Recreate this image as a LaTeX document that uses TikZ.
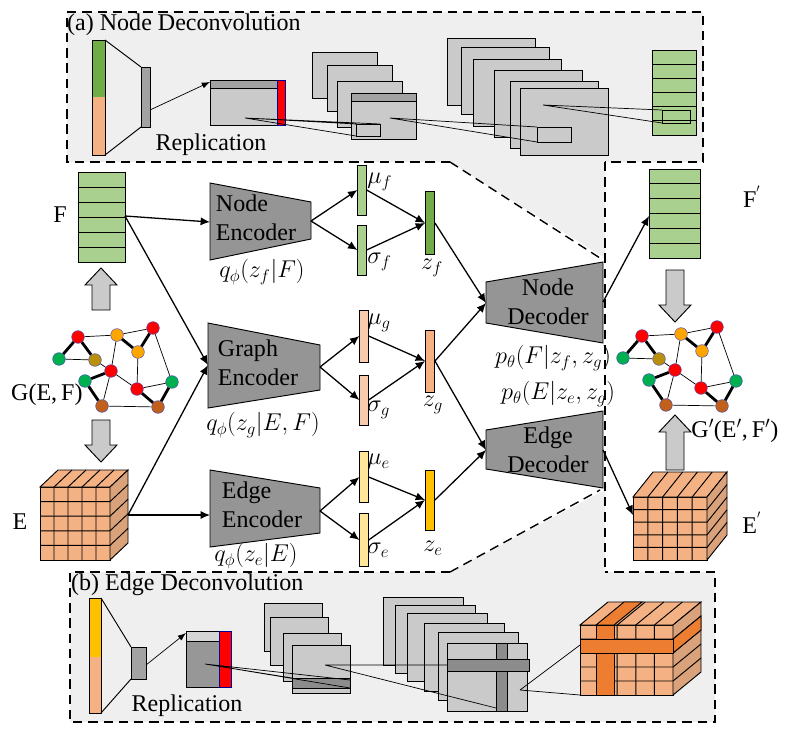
\documentclass[tikz,border=0pt]{standalone}
\usepackage{fontspec}
\setmainfont{Liberation Serif}
\usetikzlibrary{arrows.meta}
\definecolor{cpanel}{HTML}{EFEFEF}
\definecolor{cgl}{HTML}{A9D08E}
\definecolor{cgd}{HTML}{70AD47}
\definecolor{csal}{HTML}{F8CBAD}
\definecolor{csd}{HTML}{F4B183}
\definecolor{cyl}{HTML}{FFE699}
\definecolor{cyd}{HTML}{FFC000}
\definecolor{cside}{HTML}{D9A27A}
\definecolor{chi}{HTML}{ED7D31}
\definecolor{cenc}{HTML}{959595}
\definecolor{cbox}{HTML}{CACACA}
\definecolor{cdark}{HTML}{8C8C8C}
\definecolor{nR}{HTML}{FF0000}
\definecolor{nO}{HTML}{FFA500}
\definecolor{nG}{HTML}{00B050}
\definecolor{nY}{HTML}{B8900B}
\definecolor{nB}{HTML}{C0601A}
\tikzset{
  every node/.style={font=\fontsize{20.5}{25}\selectfont},
  bar/.style={draw, thick, inner sep=0pt, minimum width=0.25cm},
  enc/.style={draw, thick, fill=cenc},
  arr/.style={line width=1.1pt, -{Latex[length=8pt,width=7pt]}},
  frame/.style={very thick, dash pattern=on 8pt off 5pt},
  box/.style={draw, thick, fill=cbox},
  blk/.style={draw, thick, fill=cbox},
  gn/.style={circle, draw=blue!40!gray, fill=#1, inner sep=0pt, minimum size=0.38cm},
  thn/.style={semithick},
  thk/.style={line width=2.4pt},
  lbl/.style={inner sep=1pt}
}
% block arrow: cx, ytip, ybase, sign (+1 up, -1 down)
\newcommand\blkarr[4]{\draw[blk] (#1-9,#3) -- (#1-9,#2+#4*17) -- (#1-16,#2+#4*17) -- (#1,#2) -- (#1+16,#2+#4*17) -- (#1+9,#2+#4*17) -- (#1+9,#3) -- cycle;}
% feature vector with rows: x0,y0,x1,y1,rows
\newcommand\fvec[5]{\draw[thick, fill=cgl] (#1,#2) rectangle (#3,#4);
  \foreach \i in {1,...,5}{\draw[thick] (#1,{#2+\i*(#4-#2)/#5}) -- (#3,{#2+\i*(#4-#2)/#5});}}
% cube: x0,y0,w,h,dx,dy (5 x 5 cells)
\newcommand\cube[6]{%
  \draw[thick, fill=csd] (#1,#2) rectangle (#1+#3,#2+#4);
  \draw[thick, fill=csd] (#1,#2) -- (#1+#5,#2-#6) -- (#1+#3+#5,#2-#6) -- (#1+#3,#2) -- cycle;
  \draw[thick, fill=cside] (#1+#3,#2) -- (#1+#3+#5,#2-#6) -- (#1+#3+#5,#2+#4-#6) -- (#1+#3,#2+#4) -- cycle;
  \foreach \i in {1,...,4}{
    \draw[thick] ({#1+\i*#3/5},#2+#4) -- ({#1+\i*#3/5},#2) -- ++(#5,-#6);
    \draw[thick] (#1,{#2+\i*#4/5}) -- ++(#3,0) -- ++(#5,-#6);}}
% graph: prefix, shift
\newcommand\gnet[2]{\begin{scope}[shift={#2}]
  \node[gn=nR] (#1a) at (78,337) {};
  \node[gn=nO] (#1b) at (117,335) {};
  \node[gn=nR] (#1c) at (153,328) {};
  \node[gn=nG] (#1d) at (59,359) {};
  \node[gn=nY] (#1e) at (95,360) {};
  \node[gn=nO] (#1f) at (138,352) {};
  \node[gn=nR] (#1g) at (111,371) {};
  \node[gn=nG] (#1h) at (85,381) {};
  \node[gn=nR] (#1i) at (137,389) {};
  \node[gn=nG] (#1j) at (172,382) {};
  \node[gn=nB] (#1k) at (102,406) {};
  \node[gn=nB] (#1l) at (158,407) {};
  \draw[thn] (#1a) -- (#1b) -- (#1c) (#1d) -- (#1e) (#1b) -- (#1g) (#1e) -- (#1g) -- (#1i)
    (#1f) -- (#1i) (#1c) -- (#1j) -- (#1i) (#1g) -- (#1k) -- (#1l);
  \draw[thk] (#1b) -- (#1f) -- (#1c) (#1a) -- (#1d) (#1a) -- (#1e) (#1h) -- (#1g)
    (#1h) -- (#1k) (#1i) -- (#1l) -- (#1j);
\end{scope}}
\begin{document}
\begin{tikzpicture}[x=0.03cm, y=-0.03cm]
\useasboundingbox (0,0) rectangle (793,731);

% ---- panels and funnels
\fill[cpanel] (67,12) -- (703,12) -- (703,162) -- (605,162) -- (605,258) -- (450,162) -- (67,162) -- cycle;
\fill[cpanel] (70,722) -- (715,722) -- (715,572) -- (605,572) -- (605,490) -- (450,572) -- (70,572) -- cycle;
\draw[frame] (450,162) -- (67,162) -- (67,12) -- (703,12) -- (703,162) -- (605,162);
\draw[frame] (450,162) -- (600,258);
\draw[frame] (605,162) -- (605,572);
\draw[frame] (450,572) -- (70,572) -- (70,722) -- (715,722) -- (715,572) -- (605,572);
\draw[frame] (450,572) -- (600,490);
\node[anchor=north west, inner sep=0pt] (ta) at (67,14) {(a) Node Deconvolution};
\node[anchor=north west, inner sep=0pt] (tb) at (71,574) {(b) Edge Deconvolution};

% ---- (a) node deconvolution
\fill[cgd] (92,40) rectangle (105,97);
\fill[csd] (92,97) rectangle (105,155);
\draw[thick] (92,40) rectangle (105,155);
\draw[thick] (105,40) -- (141,67) (105,155) -- (141,127);
\draw[thick, fill=cbox!80!black] (141,67) rectangle (150,127);
\coordinate (ra) at (150,110);
\coordinate (rb) at (210,82);
\draw[semithick, -{Latex[length=7pt]}] (ra) -- (rb);
\draw[box] (210,80) rectangle (277,125);
\draw[thick, fill=cdark!80] (210,80) rectangle (277,88);
\draw[thick, draw=blue!60!black, fill=red] (277,80) rectangle (285,125);
\node (repa) at (211,145) {Replication};
\foreach \x/\y in {312/52,327/65,337/81,351/93}{\draw[box] (\x,\y) rectangle (\x+65,\y+46);}
\draw[thick, fill=cdark!80] (351,93) rectangle (416,101);
\draw[thick] (356,124) rectangle (380,136);
\draw[semithick] (356,124) -- (245,118) -- (356,136) (245,118) -- (380,124);
\foreach \x/\y in {447/38,461/47,473/59,494/70,510/81,520/88}{\draw[box] (\x,\y) rectangle (\x+88,\y+67);}
\draw[thick] (537,127) rectangle (571,142);
\draw[semithick] (537,127) -- (390,118) -- (537,142);
\fvec{652}{50}{696}{135}{6}
\draw[thick] (662,110) rectangle (690,123);
\draw[semithick] (662,110) -- (543,105) -- (662,123);

% ---- (b) edge deconvolution
\fill[cyd] (89,598) rectangle (101,657);
\fill[csd] (89,657) rectangle (101,713);
\draw[thick] (89,598) rectangle (101,713);
\draw[thick] (101,598) -- (131,647) (101,713) -- (131,679);
\draw[thick, fill=cbox!80!black] (131,647) rectangle (146,679);
\coordinate (rc) at (146,665);
\coordinate (rd) at (186,633);
\draw[semithick, -{Latex[length=7pt]}] (rc) -- (rd);
\draw[thick, fill=cdark!90] (186,631) rectangle (219,687);
\draw[thick, fill=cbox!80] (186,631) rectangle (219,641);
\draw[thick, draw=blue!60!black, fill=red] (219,631) rectangle (231,687);
\node (repb) at (187,706) {Replication};
\foreach \x/\y in {264/603,270/617,283/633,292/645}{\draw[box] (\x,\y) rectangle (\x+58,\y+48);}
\draw[thick, fill=cdark] (292,678) rectangle (350,688);
\draw[semithick] (205,664) -- (292,678) (205,664) -- (350,680) (205,664) -- (350,688);
\foreach \x/\y in {383/597,395/605,407/613,424/623,438/632,447/643}{\draw[box] (\x,\y) rectangle (\x+80,\y+68);}
\draw[thick, fill=cdark] (496,643) rectangle (507,711);
\draw[thick, fill=cdark] (447,659) rectangle (529,671);
\draw[semithick] (325,665) -- (447,665) (325,665) -- (496,708);
\cube{580}{625}{93}{70}{28}{23}
\draw[thick, fill=chi] (596,625) -- (624,602) -- (642,602) -- (614,625) -- cycle;
\draw[thick, fill=chi] (673,639) -- (701,616) -- (701,630) -- (673,653) -- cycle;
\draw[thick, fill=chi] (596,625) rectangle (614,695);
\draw[thick, fill=chi] (580,639) rectangle (673,653);
\draw[semithick] (520,690) -- (580,645) (520,690) -- (580,695);

% ---- inputs
\fvec{78}{172}{125}{262}{6}
\node (lF) at (60,215) {F};
\blkarr{101}{268}{310}{1}
\gnet{g}{(0,0)}
\node[anchor=east, lbl] (lG) at (84,395) {G(E,\,F)};
\blkarr{101}{462}{420}{-1}
\cube{40}{487}{70}{73}{18}{17}
\node (lE) at (20,522) {E};

% ---- outputs
\fvec{649}{169}{700}{258}{6}
\node (lF2) at (752,197) {F$^{'}$};
\blkarr{675}{322}{270}{-1}
\gnet{h}{(564,-1)}
\node[anchor=west, lbl] (lG2) at (690,431) {G$'$(E$'$,\,F$'$)};
\blkarr{675}{415}{470}{1}
\cube{633}{497}{74}{63}{20}{25}
\node (lE2) at (752,523) {E$^{'}$};

% ---- encoders
\draw[enc] (210,183) -- (311,202) -- (311,239) -- (210,260) -- cycle;
\draw[enc] (208,323) -- (320,345) -- (320,390) -- (208,408) -- cycle;
\draw[enc] (210,470) -- (320,488) -- (320,533) -- (210,547) -- cycle;
\node[align=left] (ne) at (256,218) {Node\\Encoder};
\node[align=left] (ge) at (258,363) {Graph\\Encoder};
\node[align=left] (ee) at (262,505) {Edge\\Encoder};
\coordinate (nei) at (210,222);
\coordinate (neo) at (311,221);
\coordinate (gei) at (208,365);
\coordinate (geo) at (320,367);
\coordinate (eei) at (210,515);
\coordinate (eeo) at (320,511);
\node (qf) at (262,272) {$q_\phi(z_f|F)$};
\node (qg) at (263,425) {$q_\phi(z_g|E,F)$};
\node (qe) at (256,556) {$q_\phi(z_e|E)$};

% ---- latent bars
\node[bar, fill=cgl, minimum height=1.5cm] (mf) at (362,190) {};
\node[bar, fill=cgl, minimum height=1.5cm] (sf) at (362,250) {};
\node[bar, fill=cgd, minimum height=1.9cm, minimum width=0.27cm] (zf) at (430,223) {};
\node[bar, fill=csal, minimum height=1.56cm] (mg) at (364,336) {};
\node[bar, fill=csal, minimum height=1.5cm] (sg) at (364,400) {};
\node[bar, fill=csd, minimum height=1.86cm, minimum width=0.27cm] (zg) at (430,361) {};
\node[bar, fill=cyl, minimum height=1.53cm] (me) at (364,477) {};
\node[bar, fill=cyl, minimum height=1.59cm] (se) at (364,540) {};
\node[bar, fill=cyd, minimum height=1.8cm, minimum width=0.27cm] (ze) at (430,500) {};
\node[anchor=west, lbl] (lmf) at (366,182) {$\mu_f$};
\node[anchor=west, lbl] (lsf) at (366,262) {$\sigma_f$};
\node (lzf) at (432,268) {$z_f$};
\node[anchor=west, lbl] (lmg) at (366,323) {$\mu_g$};
\node[anchor=west, lbl] (lsg) at (366,410) {$\sigma_g$};
\node (lzg) at (433,405) {$z_g$};
\node[anchor=west, lbl] (lme) at (366,462) {$\mu_e$};
\node[anchor=west, lbl] (lse) at (366,550) {$\sigma_e$};
\node (lze) at (433,548) {$z_e$};

% ---- decoders
\draw[enc] (486,282) -- (603,262) -- (603,343) -- (486,323) -- cycle;
\draw[enc] (486,430) -- (603,411) -- (603,488) -- (486,469) -- cycle;
\node[align=center] (nd) at (548,302) {Node\\Decoder};
\node[align=center] (ed) at (548,450) {Edge\\Decoder};
\coordinate (ndi) at (486,303);
\coordinate (ndo) at (603,302);
\coordinate (edi) at (486,450);
\coordinate (edo) at (603,450);
\node (pf) at (553,358) {$p_\theta(F|z_f,z_g)$};
\node (pe) at (558,394) {$p_\theta(E|z_e,z_g)$};

% ---- connectors
\coordinate (fo) at (125,216);
\coordinate (eo) at (128,515);
\coordinate (fpi) at (649,216);
\coordinate (epi) at (633,515);
\draw[arr] (fo) -- (nei);
\draw[arr] (fo) -- (gei);
\draw[arr] (eo) -- (gei);
\draw[arr] (eo) -- (eei);
\foreach \e/\m/\s/\z in {neo/mf/sf/zf, geo/mg/sg/zg, eeo/me/se/ze}{
  \draw[arr] (\e) -- (\m.west);
  \draw[arr] (\e) -- (\s.west);
  \draw[arr] (\m.east) -- (\z.west);
  \draw[arr] (\s.east) -- (\z.west);}
\draw[arr] (zf.east) -- (ndi);
\draw[arr] (zg.east) -- (ndi);
\draw[arr] (zg.east) -- (edi);
\draw[arr] (ze.east) -- (edi);
\draw[arr] (ndo) -- (fpi);
\draw[arr] (edo) -- (epi);
\end{tikzpicture}
\end{document}
